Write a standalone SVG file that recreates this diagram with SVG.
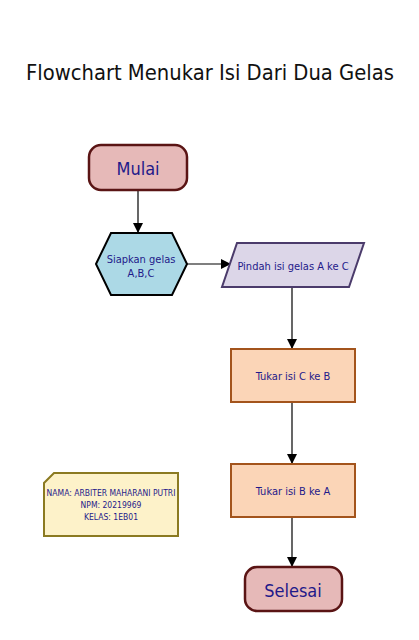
<svg xmlns="http://www.w3.org/2000/svg" width="419" height="640" viewBox="0 0 419 640">
<defs>
<marker id="arr" viewBox="0 0 10 10" refX="10" refY="5" markerWidth="10" markerHeight="10" markerUnits="userSpaceOnUse" orient="auto">
<path d="M0,0 L10,5 L0,10 z" fill="#000"/>
</marker>
<style>
.lbl{font-family:"DejaVu Sans Condensed","Liberation Sans",sans-serif;fill:#1f1a8a;text-anchor:middle;dominant-baseline:central}
.term{fill:#e6b9b8;stroke:#5a1414;stroke-width:2.5}
.proc{fill:#fbd5b7;stroke:#a3541c;stroke-width:2}
.edge{stroke:#000;stroke-width:1.2;fill:none;marker-end:url(#arr)}
</style>
</defs>
<rect width="419" height="640" fill="#fff"/>
<text x="210" y="73" font-family="'DejaVu Sans Condensed','Liberation Sans',sans-serif" font-size="21" text-anchor="middle" dominant-baseline="central" fill="#111" textLength="368" lengthAdjust="spacingAndGlyphs">Flowchart Menukar Isi Dari Dua Gelas</text>

<g id="connectors">
<line class="edge" x1="138" y1="191" x2="138" y2="233"/>
<line class="edge" x1="187" y1="264" x2="231" y2="264"/>
<line class="edge" x1="292" y1="288" x2="292" y2="349"/>
<line class="edge" x1="292" y1="403" x2="292" y2="464"/>
<line class="edge" x1="292" y1="518" x2="292" y2="567"/>
</g>

<g id="mulai">
<rect class="term" x="89" y="145" width="98" height="45" rx="12"/>
<text class="lbl" x="138" y="168" font-size="18">Mulai</text>
</g>

<g id="siapkan">
<polygon points="96,264 111,233 172,233 187,264 172,295 111,295" fill="#acd9e6" stroke="#000" stroke-width="2"/>
<text class="lbl" x="141" y="259" font-size="11">Siapkan gelas</text>
<text class="lbl" x="141" y="273" font-size="11">A,B,C</text>
</g>

<g id="pindah">
<polygon points="237,243 364,243 349,287 222,287" fill="#dcd6e8" stroke="#4b3b6b" stroke-width="2"/>
<text class="lbl" x="293" y="266" font-size="11">Pindah isi gelas A ke C</text>
</g>

<g id="tukarCB">
<rect class="proc" x="231" y="349" width="124" height="53"/>
<text class="lbl" x="293" y="376" font-size="11">Tukar isi C ke B</text>
</g>

<g id="tukarBA">
<rect class="proc" x="231" y="464" width="124" height="53"/>
<text class="lbl" x="293" y="491" font-size="11">Tukar isi B ke A</text>
</g>

<g id="selesai">
<rect class="term" x="245" y="567" width="97" height="44" rx="12"/>
<text class="lbl" x="293" y="590" font-size="18">Selesai</text>
</g>

<g id="note">
<polygon points="54,473 178,473 178,536 44,536 44,483" fill="#fdf2c9" stroke="#8b7a21" stroke-width="2"/>
<text class="lbl" x="111" y="493" font-size="8.5">NAMA: ARBITER MAHARANI PUTRI</text>
<text class="lbl" x="111" y="505" font-size="8.5">NPM: 20219969</text>
<text class="lbl" x="111" y="517" font-size="8.5">KELAS: 1EB01</text>
</g>
</svg>
